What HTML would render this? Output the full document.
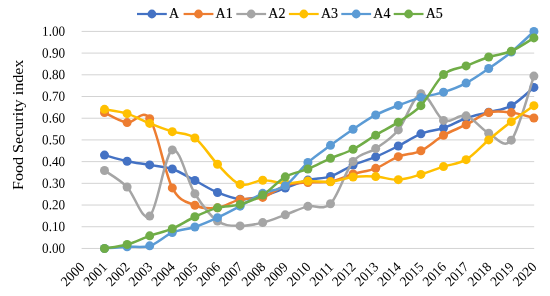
<!DOCTYPE html><html><head><meta charset="utf-8"><style>html,body{margin:0;padding:0;background:#fff}svg{display:block}text{font-family:"Liberation Serif",serif;font-size:13px;fill:#000}</style></head><body>
<svg width="550" height="296" viewBox="0 0 550 296">
<rect width="550" height="296" fill="#fff"/>
<line x1="81.6" x2="534.2" y1="248.45" y2="248.45" stroke="#D3D3D3" stroke-width="1"/>
<line x1="81.6" x2="534.2" y1="226.74" y2="226.74" stroke="#D3D3D3" stroke-width="1"/>
<line x1="81.6" x2="534.2" y1="205.04" y2="205.04" stroke="#D3D3D3" stroke-width="1"/>
<line x1="81.6" x2="534.2" y1="183.33" y2="183.33" stroke="#D3D3D3" stroke-width="1"/>
<line x1="81.6" x2="534.2" y1="161.63" y2="161.63" stroke="#D3D3D3" stroke-width="1"/>
<line x1="81.6" x2="534.2" y1="139.92" y2="139.92" stroke="#D3D3D3" stroke-width="1"/>
<line x1="81.6" x2="534.2" y1="118.22" y2="118.22" stroke="#D3D3D3" stroke-width="1"/>
<line x1="81.6" x2="534.2" y1="96.51" y2="96.51" stroke="#D3D3D3" stroke-width="1"/>
<line x1="81.6" x2="534.2" y1="74.81" y2="74.81" stroke="#D3D3D3" stroke-width="1"/>
<line x1="81.6" x2="534.2" y1="53.10" y2="53.10" stroke="#D3D3D3" stroke-width="1"/>
<line x1="81.6" x2="534.2" y1="31.40" y2="31.40" stroke="#D3D3D3" stroke-width="1"/>
<text transform="translate(42.1,252.75) rotate(0.03)" style="font-size:13.8px" textLength="23.1" lengthAdjust="spacingAndGlyphs">0.00</text>
<text transform="translate(42.1,231.04) rotate(0.03)" style="font-size:13.8px" textLength="23.1" lengthAdjust="spacingAndGlyphs">0.10</text>
<text transform="translate(42.1,209.34) rotate(0.03)" style="font-size:13.8px" textLength="23.1" lengthAdjust="spacingAndGlyphs">0.20</text>
<text transform="translate(42.1,187.63) rotate(0.03)" style="font-size:13.8px" textLength="23.1" lengthAdjust="spacingAndGlyphs">0.30</text>
<text transform="translate(42.1,165.93) rotate(0.03)" style="font-size:13.8px" textLength="23.1" lengthAdjust="spacingAndGlyphs">0.40</text>
<text transform="translate(42.1,144.22) rotate(0.03)" style="font-size:13.8px" textLength="23.1" lengthAdjust="spacingAndGlyphs">0.50</text>
<text transform="translate(42.1,122.52) rotate(0.03)" style="font-size:13.8px" textLength="23.1" lengthAdjust="spacingAndGlyphs">0.60</text>
<text transform="translate(42.1,100.81) rotate(0.03)" style="font-size:13.8px" textLength="23.1" lengthAdjust="spacingAndGlyphs">0.70</text>
<text transform="translate(42.1,79.11) rotate(0.03)" style="font-size:13.8px" textLength="23.1" lengthAdjust="spacingAndGlyphs">0.80</text>
<text transform="translate(42.1,57.40) rotate(0.03)" style="font-size:13.8px" textLength="23.1" lengthAdjust="spacingAndGlyphs">0.90</text>
<text transform="translate(42.1,35.70) rotate(0.03)" style="font-size:13.8px" textLength="23.1" lengthAdjust="spacingAndGlyphs">1.00</text>
<text transform="translate(23,124.8) rotate(-90)" text-anchor="middle" style="font-size:14.6px" textLength="130.4" lengthAdjust="spacingAndGlyphs">Food Security index</text>
<text transform="translate(85.40,267.80) rotate(-45)" style="font-size:13.8px" textLength="27" lengthAdjust="spacingAndGlyphs" x="-27">2000</text>
<text transform="translate(108.00,267.80) rotate(-45)" style="font-size:13.8px" textLength="27" lengthAdjust="spacingAndGlyphs" x="-27">2001</text>
<text transform="translate(130.60,267.80) rotate(-45)" style="font-size:13.8px" textLength="27" lengthAdjust="spacingAndGlyphs" x="-27">2002</text>
<text transform="translate(153.20,267.80) rotate(-45)" style="font-size:13.8px" textLength="27" lengthAdjust="spacingAndGlyphs" x="-27">2003</text>
<text transform="translate(175.80,267.80) rotate(-45)" style="font-size:13.8px" textLength="27" lengthAdjust="spacingAndGlyphs" x="-27">2004</text>
<text transform="translate(198.40,267.80) rotate(-45)" style="font-size:13.8px" textLength="27" lengthAdjust="spacingAndGlyphs" x="-27">2005</text>
<text transform="translate(221.00,267.80) rotate(-45)" style="font-size:13.8px" textLength="27" lengthAdjust="spacingAndGlyphs" x="-27">2006</text>
<text transform="translate(243.60,267.80) rotate(-45)" style="font-size:13.8px" textLength="27" lengthAdjust="spacingAndGlyphs" x="-27">2007</text>
<text transform="translate(266.20,267.80) rotate(-45)" style="font-size:13.8px" textLength="27" lengthAdjust="spacingAndGlyphs" x="-27">2008</text>
<text transform="translate(288.80,267.80) rotate(-45)" style="font-size:13.8px" textLength="27" lengthAdjust="spacingAndGlyphs" x="-27">2009</text>
<text transform="translate(311.40,267.80) rotate(-45)" style="font-size:13.8px" textLength="27" lengthAdjust="spacingAndGlyphs" x="-27">2010</text>
<text transform="translate(334.00,267.80) rotate(-45)" style="font-size:13.8px" textLength="27" lengthAdjust="spacingAndGlyphs" x="-27">2011</text>
<text transform="translate(356.60,267.80) rotate(-45)" style="font-size:13.8px" textLength="27" lengthAdjust="spacingAndGlyphs" x="-27">2012</text>
<text transform="translate(379.20,267.80) rotate(-45)" style="font-size:13.8px" textLength="27" lengthAdjust="spacingAndGlyphs" x="-27">2013</text>
<text transform="translate(401.80,267.80) rotate(-45)" style="font-size:13.8px" textLength="27" lengthAdjust="spacingAndGlyphs" x="-27">2014</text>
<text transform="translate(424.40,267.80) rotate(-45)" style="font-size:13.8px" textLength="27" lengthAdjust="spacingAndGlyphs" x="-27">2015</text>
<text transform="translate(447.00,267.80) rotate(-45)" style="font-size:13.8px" textLength="27" lengthAdjust="spacingAndGlyphs" x="-27">2016</text>
<text transform="translate(469.60,267.80) rotate(-45)" style="font-size:13.8px" textLength="27" lengthAdjust="spacingAndGlyphs" x="-27">2017</text>
<text transform="translate(492.20,267.80) rotate(-45)" style="font-size:13.8px" textLength="27" lengthAdjust="spacingAndGlyphs" x="-27">2018</text>
<text transform="translate(514.80,267.80) rotate(-45)" style="font-size:13.8px" textLength="27" lengthAdjust="spacingAndGlyphs" x="-27">2019</text>
<text transform="translate(537.40,267.80) rotate(-45)" style="font-size:13.8px" textLength="27" lengthAdjust="spacingAndGlyphs" x="-27">2020</text>
<path d="M104.50 155.12 C108.27 156.13 119.57 159.57 127.10 161.20 C134.63 162.82 142.17 163.58 149.70 164.89 C157.23 166.19 164.77 166.41 172.30 169.01 C179.83 171.61 187.37 176.61 194.90 180.51 C202.43 184.42 209.97 189.34 217.50 192.45 C225.03 195.56 232.57 198.60 240.10 199.18 C247.63 199.76 255.17 197.77 262.70 195.92 C270.23 194.08 277.77 190.75 285.30 188.11 C292.83 185.47 300.37 182.03 307.90 180.08 C315.43 178.13 322.97 178.89 330.50 176.39 C338.03 173.89 345.57 168.36 353.10 165.10 C360.63 161.85 368.17 160.04 375.70 156.85 C383.23 153.67 390.77 149.84 398.30 146.00 C405.83 142.17 413.37 136.85 420.90 133.85 C428.43 130.85 435.97 130.59 443.50 127.99 C451.03 125.38 458.57 120.86 466.10 118.22 C473.63 115.58 481.17 114.24 488.70 112.14 C496.23 110.04 503.77 109.76 511.30 105.63 C518.83 101.51 530.13 90.44 533.90 87.40" fill="none" stroke="#4472C4" stroke-width="2.5" stroke-linecap="round" stroke-linejoin="round"/>
<circle cx="104.50" cy="155.12" r="4.5" fill="#4472C4"/>
<circle cx="127.10" cy="161.20" r="4.5" fill="#4472C4"/>
<circle cx="149.70" cy="164.89" r="4.5" fill="#4472C4"/>
<circle cx="172.30" cy="169.01" r="4.5" fill="#4472C4"/>
<circle cx="194.90" cy="180.51" r="4.5" fill="#4472C4"/>
<circle cx="217.50" cy="192.45" r="4.5" fill="#4472C4"/>
<circle cx="240.10" cy="199.18" r="4.5" fill="#4472C4"/>
<circle cx="262.70" cy="195.92" r="4.5" fill="#4472C4"/>
<circle cx="285.30" cy="188.11" r="4.5" fill="#4472C4"/>
<circle cx="307.90" cy="180.08" r="4.5" fill="#4472C4"/>
<circle cx="330.50" cy="176.39" r="4.5" fill="#4472C4"/>
<circle cx="353.10" cy="165.10" r="4.5" fill="#4472C4"/>
<circle cx="375.70" cy="156.85" r="4.5" fill="#4472C4"/>
<circle cx="398.30" cy="146.00" r="4.5" fill="#4472C4"/>
<circle cx="420.90" cy="133.85" r="4.5" fill="#4472C4"/>
<circle cx="443.50" cy="127.99" r="4.5" fill="#4472C4"/>
<circle cx="466.10" cy="118.22" r="4.5" fill="#4472C4"/>
<circle cx="488.70" cy="112.14" r="4.5" fill="#4472C4"/>
<circle cx="511.30" cy="105.63" r="4.5" fill="#4472C4"/>
<circle cx="533.90" cy="87.40" r="4.5" fill="#4472C4"/>
<path d="M104.50 112.58 C108.27 114.24 119.57 121.55 127.10 122.56 C134.63 123.57 142.17 107.77 149.70 118.65 C157.23 129.54 164.77 173.46 172.30 187.89 C179.83 202.33 187.37 201.93 194.90 205.26 C202.43 208.59 209.97 208.84 217.50 207.86 C225.03 206.88 232.57 201.13 240.10 199.40 C247.63 197.66 255.17 199.76 262.70 197.44 C270.23 195.13 277.77 188.00 285.30 185.51 C292.83 183.01 300.37 183.12 307.90 182.47 C315.43 181.82 322.97 183.01 330.50 181.60 C338.03 180.19 345.57 176.21 353.10 174.00 C360.63 171.80 368.17 171.25 375.70 168.36 C383.23 165.46 390.77 159.57 398.30 156.64 C405.83 153.71 413.37 154.32 420.90 150.78 C428.43 147.23 435.97 139.71 443.50 135.37 C451.03 131.03 458.57 128.53 466.10 124.73 C473.63 120.93 481.17 114.60 488.70 112.58 C496.23 110.55 503.77 111.67 511.30 112.58 C518.83 113.48 530.13 117.10 533.90 118.00" fill="none" stroke="#ED7D31" stroke-width="2.5" stroke-linecap="round" stroke-linejoin="round"/>
<circle cx="104.50" cy="112.58" r="4.5" fill="#ED7D31"/>
<circle cx="127.10" cy="122.56" r="4.5" fill="#ED7D31"/>
<circle cx="149.70" cy="118.65" r="4.5" fill="#ED7D31"/>
<circle cx="172.30" cy="187.89" r="4.5" fill="#ED7D31"/>
<circle cx="194.90" cy="205.26" r="4.5" fill="#ED7D31"/>
<circle cx="217.50" cy="207.86" r="4.5" fill="#ED7D31"/>
<circle cx="240.10" cy="199.40" r="4.5" fill="#ED7D31"/>
<circle cx="262.70" cy="197.44" r="4.5" fill="#ED7D31"/>
<circle cx="285.30" cy="185.51" r="4.5" fill="#ED7D31"/>
<circle cx="307.90" cy="182.47" r="4.5" fill="#ED7D31"/>
<circle cx="330.50" cy="181.60" r="4.5" fill="#ED7D31"/>
<circle cx="353.10" cy="174.00" r="4.5" fill="#ED7D31"/>
<circle cx="375.70" cy="168.36" r="4.5" fill="#ED7D31"/>
<circle cx="398.30" cy="156.64" r="4.5" fill="#ED7D31"/>
<circle cx="420.90" cy="150.78" r="4.5" fill="#ED7D31"/>
<circle cx="443.50" cy="135.37" r="4.5" fill="#ED7D31"/>
<circle cx="466.10" cy="124.73" r="4.5" fill="#ED7D31"/>
<circle cx="488.70" cy="112.58" r="4.5" fill="#ED7D31"/>
<circle cx="511.30" cy="112.58" r="4.5" fill="#ED7D31"/>
<circle cx="533.90" cy="118.00" r="4.5" fill="#ED7D31"/>
<path d="M104.50 170.53 C108.27 173.28 119.57 179.43 127.10 187.02 C134.63 194.62 142.17 222.30 149.70 216.11 C157.23 209.92 164.77 153.64 172.30 149.91 C179.83 146.18 187.37 181.89 194.90 193.75 C202.43 205.62 209.97 215.75 217.50 221.10 C225.03 226.46 232.57 225.62 240.10 225.88 C247.63 226.13 255.17 224.47 262.70 222.62 C270.23 220.78 277.77 217.52 285.30 214.81 C292.83 212.09 300.37 208.19 307.90 206.34 C315.43 204.50 322.97 211.23 330.50 203.74 C338.03 196.25 345.57 170.60 353.10 161.41 C360.63 152.22 368.17 153.85 375.70 148.61 C383.23 143.36 390.77 139.09 398.30 129.94 C405.83 120.79 413.37 95.29 420.90 93.69 C428.43 92.10 435.97 116.70 443.50 120.39 C451.03 124.08 458.57 113.70 466.10 115.83 C473.63 117.97 481.17 129.14 488.70 133.20 C496.23 137.25 503.77 149.66 511.30 140.14 C518.83 130.63 530.13 86.78 533.90 76.11" fill="none" stroke="#A5A5A5" stroke-width="2.5" stroke-linecap="round" stroke-linejoin="round"/>
<circle cx="104.50" cy="170.53" r="4.5" fill="#A5A5A5"/>
<circle cx="127.10" cy="187.02" r="4.5" fill="#A5A5A5"/>
<circle cx="149.70" cy="216.11" r="4.5" fill="#A5A5A5"/>
<circle cx="172.30" cy="149.91" r="4.5" fill="#A5A5A5"/>
<circle cx="194.90" cy="193.75" r="4.5" fill="#A5A5A5"/>
<circle cx="217.50" cy="221.10" r="4.5" fill="#A5A5A5"/>
<circle cx="240.10" cy="225.88" r="4.5" fill="#A5A5A5"/>
<circle cx="262.70" cy="222.62" r="4.5" fill="#A5A5A5"/>
<circle cx="285.30" cy="214.81" r="4.5" fill="#A5A5A5"/>
<circle cx="307.90" cy="206.34" r="4.5" fill="#A5A5A5"/>
<circle cx="330.50" cy="203.74" r="4.5" fill="#A5A5A5"/>
<circle cx="353.10" cy="161.41" r="4.5" fill="#A5A5A5"/>
<circle cx="375.70" cy="148.61" r="4.5" fill="#A5A5A5"/>
<circle cx="398.30" cy="129.94" r="4.5" fill="#A5A5A5"/>
<circle cx="420.90" cy="93.69" r="4.5" fill="#A5A5A5"/>
<circle cx="443.50" cy="120.39" r="4.5" fill="#A5A5A5"/>
<circle cx="466.10" cy="115.83" r="4.5" fill="#A5A5A5"/>
<circle cx="488.70" cy="133.20" r="4.5" fill="#A5A5A5"/>
<circle cx="511.30" cy="140.14" r="4.5" fill="#A5A5A5"/>
<circle cx="533.90" cy="76.11" r="4.5" fill="#A5A5A5"/>
<path d="M104.50 109.32 C108.27 110.04 119.57 111.31 127.10 113.66 C134.63 116.01 142.17 120.43 149.70 123.43 C157.23 126.43 164.77 129.25 172.30 131.68 C179.83 134.10 187.37 132.55 194.90 137.97 C202.43 143.40 209.97 156.49 217.50 164.23 C225.03 171.98 232.57 181.74 240.10 184.42 C247.63 187.10 255.17 180.48 262.70 180.30 C270.23 180.12 277.77 183.23 285.30 183.33 C292.83 183.44 300.37 181.20 307.90 180.95 C315.43 180.69 322.97 182.47 330.50 181.82 C338.03 181.16 345.57 177.91 353.10 177.04 C360.63 176.17 368.17 176.17 375.70 176.61 C383.23 177.04 390.77 180.01 398.30 179.65 C405.83 179.28 413.37 176.61 420.90 174.44 C428.43 172.27 435.97 169.08 443.50 166.62 C451.03 164.16 458.57 164.13 466.10 159.68 C473.63 155.23 481.17 146.26 488.70 139.92 C496.23 133.59 503.77 127.41 511.30 121.69 C518.83 115.98 530.13 108.31 533.90 105.63" fill="none" stroke="#FFC000" stroke-width="2.5" stroke-linecap="round" stroke-linejoin="round"/>
<circle cx="104.50" cy="109.32" r="4.5" fill="#FFC000"/>
<circle cx="127.10" cy="113.66" r="4.5" fill="#FFC000"/>
<circle cx="149.70" cy="123.43" r="4.5" fill="#FFC000"/>
<circle cx="172.30" cy="131.68" r="4.5" fill="#FFC000"/>
<circle cx="194.90" cy="137.97" r="4.5" fill="#FFC000"/>
<circle cx="217.50" cy="164.23" r="4.5" fill="#FFC000"/>
<circle cx="240.10" cy="184.42" r="4.5" fill="#FFC000"/>
<circle cx="262.70" cy="180.30" r="4.5" fill="#FFC000"/>
<circle cx="285.30" cy="183.33" r="4.5" fill="#FFC000"/>
<circle cx="307.90" cy="180.95" r="4.5" fill="#FFC000"/>
<circle cx="330.50" cy="181.82" r="4.5" fill="#FFC000"/>
<circle cx="353.10" cy="177.04" r="4.5" fill="#FFC000"/>
<circle cx="375.70" cy="176.61" r="4.5" fill="#FFC000"/>
<circle cx="398.30" cy="179.65" r="4.5" fill="#FFC000"/>
<circle cx="420.90" cy="174.44" r="4.5" fill="#FFC000"/>
<circle cx="443.50" cy="166.62" r="4.5" fill="#FFC000"/>
<circle cx="466.10" cy="159.68" r="4.5" fill="#FFC000"/>
<circle cx="488.70" cy="139.92" r="4.5" fill="#FFC000"/>
<circle cx="511.30" cy="121.69" r="4.5" fill="#FFC000"/>
<circle cx="533.90" cy="105.63" r="4.5" fill="#FFC000"/>
<path d="M104.50 248.45 C108.27 248.16 119.57 247.15 127.10 246.71 C134.63 246.28 142.17 248.20 149.70 245.85 C157.23 243.49 164.77 235.75 172.30 232.61 C179.83 229.46 187.37 229.46 194.90 226.96 C202.43 224.47 209.97 221.10 217.50 217.63 C225.03 214.16 232.57 210.18 240.10 206.13 C247.63 202.07 255.17 196.72 262.70 193.32 C270.23 189.92 277.77 190.86 285.30 185.72 C292.83 180.59 300.37 169.23 307.90 162.50 C315.43 155.77 322.97 150.89 330.50 145.35 C338.03 139.82 345.57 134.35 353.10 129.29 C360.63 124.23 368.17 118.94 375.70 114.96 C383.23 110.98 390.77 108.31 398.30 105.41 C405.83 102.52 413.37 99.81 420.90 97.60 C428.43 95.39 435.97 94.60 443.50 92.17 C451.03 89.75 458.57 87.00 466.10 83.06 C473.63 79.11 481.17 73.69 488.70 68.52 C496.23 63.34 503.77 58.21 511.30 52.02 C518.83 45.83 530.13 34.84 533.90 31.40" fill="none" stroke="#5B9BD5" stroke-width="2.5" stroke-linecap="round" stroke-linejoin="round"/>
<circle cx="104.50" cy="248.45" r="4.5" fill="#5B9BD5"/>
<circle cx="127.10" cy="246.71" r="4.5" fill="#5B9BD5"/>
<circle cx="149.70" cy="245.85" r="4.5" fill="#5B9BD5"/>
<circle cx="172.30" cy="232.61" r="4.5" fill="#5B9BD5"/>
<circle cx="194.90" cy="226.96" r="4.5" fill="#5B9BD5"/>
<circle cx="217.50" cy="217.63" r="4.5" fill="#5B9BD5"/>
<circle cx="240.10" cy="206.13" r="4.5" fill="#5B9BD5"/>
<circle cx="262.70" cy="193.32" r="4.5" fill="#5B9BD5"/>
<circle cx="285.30" cy="185.72" r="4.5" fill="#5B9BD5"/>
<circle cx="307.90" cy="162.50" r="4.5" fill="#5B9BD5"/>
<circle cx="330.50" cy="145.35" r="4.5" fill="#5B9BD5"/>
<circle cx="353.10" cy="129.29" r="4.5" fill="#5B9BD5"/>
<circle cx="375.70" cy="114.96" r="4.5" fill="#5B9BD5"/>
<circle cx="398.30" cy="105.41" r="4.5" fill="#5B9BD5"/>
<circle cx="420.90" cy="97.60" r="4.5" fill="#5B9BD5"/>
<circle cx="443.50" cy="92.17" r="4.5" fill="#5B9BD5"/>
<circle cx="466.10" cy="83.06" r="4.5" fill="#5B9BD5"/>
<circle cx="488.70" cy="68.52" r="4.5" fill="#5B9BD5"/>
<circle cx="511.30" cy="52.02" r="4.5" fill="#5B9BD5"/>
<circle cx="533.90" cy="31.40" r="4.5" fill="#5B9BD5"/>
<path d="M104.50 248.45 C108.27 247.80 119.57 246.64 127.10 244.54 C134.63 242.44 142.17 238.50 149.70 235.86 C157.23 233.22 164.77 231.88 172.30 228.70 C179.83 225.52 187.37 220.23 194.90 216.76 C202.43 213.29 209.97 209.92 217.50 207.86 C225.03 205.80 232.57 206.52 240.10 204.39 C247.63 202.25 255.17 199.65 262.70 195.06 C270.23 190.46 277.77 181.16 285.30 176.82 C292.83 172.48 300.37 172.08 307.90 169.01 C315.43 165.93 322.97 161.67 330.50 158.37 C338.03 155.08 345.57 153.13 353.10 149.26 C360.63 145.39 368.17 139.67 375.70 135.15 C383.23 130.63 390.77 127.05 398.30 122.13 C405.83 117.21 413.37 113.55 420.90 105.63 C428.43 97.71 435.97 81.21 443.50 74.59 C451.03 67.97 458.57 68.84 466.10 65.91 C473.63 62.98 481.17 59.47 488.70 57.01 C496.23 54.55 503.77 54.33 511.30 51.15 C518.83 47.97 530.13 40.12 533.90 37.91" fill="none" stroke="#70AD47" stroke-width="2.5" stroke-linecap="round" stroke-linejoin="round"/>
<circle cx="104.50" cy="248.45" r="4.5" fill="#70AD47"/>
<circle cx="127.10" cy="244.54" r="4.5" fill="#70AD47"/>
<circle cx="149.70" cy="235.86" r="4.5" fill="#70AD47"/>
<circle cx="172.30" cy="228.70" r="4.5" fill="#70AD47"/>
<circle cx="194.90" cy="216.76" r="4.5" fill="#70AD47"/>
<circle cx="217.50" cy="207.86" r="4.5" fill="#70AD47"/>
<circle cx="240.10" cy="204.39" r="4.5" fill="#70AD47"/>
<circle cx="262.70" cy="195.06" r="4.5" fill="#70AD47"/>
<circle cx="285.30" cy="176.82" r="4.5" fill="#70AD47"/>
<circle cx="307.90" cy="169.01" r="4.5" fill="#70AD47"/>
<circle cx="330.50" cy="158.37" r="4.5" fill="#70AD47"/>
<circle cx="353.10" cy="149.26" r="4.5" fill="#70AD47"/>
<circle cx="375.70" cy="135.15" r="4.5" fill="#70AD47"/>
<circle cx="398.30" cy="122.13" r="4.5" fill="#70AD47"/>
<circle cx="420.90" cy="105.63" r="4.5" fill="#70AD47"/>
<circle cx="443.50" cy="74.59" r="4.5" fill="#70AD47"/>
<circle cx="466.10" cy="65.91" r="4.5" fill="#70AD47"/>
<circle cx="488.70" cy="57.01" r="4.5" fill="#70AD47"/>
<circle cx="511.30" cy="51.15" r="4.5" fill="#70AD47"/>
<circle cx="533.90" cy="37.91" r="4.5" fill="#70AD47"/>
<line x1="137.0" x2="166.8" y1="14" y2="14" stroke="#4472C4" stroke-width="2.2"/>
<circle cx="151.9" cy="14" r="4.4" fill="#4472C4"/>
<text x="169.0" y="18" style="font-size:14px;stroke:#000;stroke-width:0.15px">A</text>
<line x1="183.6" x2="213.4" y1="14" y2="14" stroke="#ED7D31" stroke-width="2.2"/>
<circle cx="198.5" cy="14" r="4.4" fill="#ED7D31"/>
<text x="215.6" y="18" style="font-size:14px;stroke:#000;stroke-width:0.15px">A1</text>
<line x1="236.3" x2="266.1" y1="14" y2="14" stroke="#A5A5A5" stroke-width="2.2"/>
<circle cx="251.2" cy="14" r="4.4" fill="#A5A5A5"/>
<text x="268.3" y="18" style="font-size:14px;stroke:#000;stroke-width:0.15px">A2</text>
<line x1="288.9" x2="318.7" y1="14" y2="14" stroke="#FFC000" stroke-width="2.2"/>
<circle cx="303.8" cy="14" r="4.4" fill="#FFC000"/>
<text x="320.9" y="18" style="font-size:14px;stroke:#000;stroke-width:0.15px">A3</text>
<line x1="341.3" x2="371.1" y1="14" y2="14" stroke="#5B9BD5" stroke-width="2.2"/>
<circle cx="356.2" cy="14" r="4.4" fill="#5B9BD5"/>
<text x="373.3" y="18" style="font-size:14px;stroke:#000;stroke-width:0.15px">A4</text>
<line x1="393.7" x2="423.5" y1="14" y2="14" stroke="#70AD47" stroke-width="2.2"/>
<circle cx="408.6" cy="14" r="4.4" fill="#70AD47"/>
<text x="425.7" y="18" style="font-size:14px;stroke:#000;stroke-width:0.15px">A5</text>
</svg></body></html>
